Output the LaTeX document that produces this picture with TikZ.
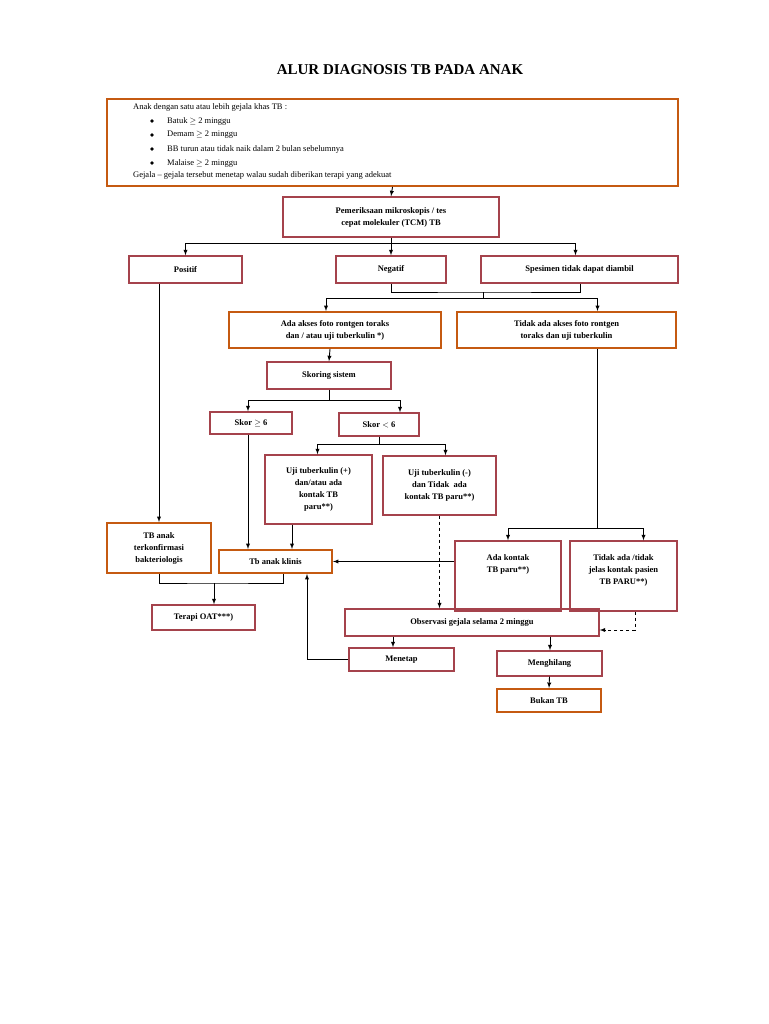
\documentclass[tikz,border=0pt]{standalone}
\usepackage{fontspec}
\setmainfont{Liberation Serif}
\usepackage{amssymb}
\usetikzlibrary{arrows}
\definecolor{boxred}{HTML}{A5434C}
\definecolor{boxorange}{HTML}{C55A11}
\begin{document}
\begin{tikzpicture}[>=latex, x=1pt, y=-1pt,
  box/.style={rectangle, draw=boxred, line width=1.4pt, inner sep=2pt,
    align=center, font=\bfseries\fontsize{8.5}{12}\selectfont},
  obox/.style={box, draw=boxorange, line width=1.9pt},
  txt/.style={anchor=west, inner sep=0pt, font=\fontsize{8.5}{10}\selectfont},
  con/.style={line width=0.9pt},
  dcon/.style={con, dashed}]
  %
  \useasboundingbox (0,0) rectangle (768,1024);
  \node[font=\bfseries\fontsize{15}{18}\selectfont] (title) at (400,70) {ALUR DIAGNOSIS TB PADA ANAK};

  % gejala
  \node[obox, minimum width=571pt, minimum height=87pt] (gejala) at (392.5,142.5) {};
  \node[txt] (g0) at (133,107) {Anak dengan satu atau lebih gejala khas TB :};
  \node[txt] (g1) at (167,121) {Batuk $\geq$ 2 minggu};
  \node[txt] (g2) at (167,135) {Demam $\geq$ 2 minggu};
  \node[txt] (g3) at (167,149) {BB turun atau tidak naik dalam 2 bulan sebelumnya};
  \node[txt] (g4) at (167,163) {Malaise $\geq$ 2 minggu};
  \node[txt] (g5) at (133,175) {Gejala -- gejala tersebut menetap walau sudah diberikan terapi yang adekuat};
  \foreach \y in {121,135,149,163}
    \fill (152,\y) circle (1.8pt);

  % boxes
  \node[box, minimum width=216pt, minimum height=40pt] (periksa) at (391,217) {Pemeriksaan mikroskopis / tes\\cepat molekuler (TCM) TB};
  \node[box, minimum width=113pt, minimum height=27pt] (positif) at (185.5,269.5) {Positif};
  \node[box, minimum width=110pt, minimum height=27pt] (negatif) at (391,269.5) {Negatif};
  \node[box, minimum width=197pt, minimum height=27pt] (spesimen) at (579.5,269.5) {Spesimen tidak dapat diambil};
  \node[obox, minimum width=212pt, minimum height=36pt] (akses) at (335,330) {Ada akses foto rontgen toraks\\dan / atau uji tuberkulin *)};
  \node[obox, minimum width=219pt, minimum height=36pt] (noakses) at (566.5,330) {Tidak ada akses foto rontgen\\toraks dan uji tuberkulin};
  \node[box, minimum width=124pt, minimum height=27pt] (skoring) at (329,375.5) {Skoring sistem};
  \node[box, minimum width=82pt, minimum height=22pt] (skor6) at (251,423) {Skor $\geq$ 6};
  \node[box, minimum width=80pt, minimum height=23pt] (skorlt) at (379,424.5) {Skor $<$ 6};
  \node[box, minimum width=107pt, minimum height=69pt] (ujipos) at (318.5,489.5) {Uji tuberkulin (+)\\dan/atau ada\\kontak TB\\paru**)};
  \node[box, minimum width=113pt, minimum height=59pt] (ujineg) at (439.5,485.5) {Uji tuberkulin (-)\\dan Tidak \ ada\\kontak TB paru**)};
  \node[obox, minimum width=104pt, minimum height=50pt] (konfirm) at (159,548) {TB anak\\terkonfirmasi\\bakteriologis};
  \node[obox, minimum width=113pt, minimum height=23pt] (klinis) at (275.5,561.5) {Tb anak klinis};
  \node[box, minimum width=106pt, minimum height=70pt] (kontak) at (508,576) {Ada kontak\\TB paru**)\\ \\ };
  \node[box, minimum width=107pt, minimum height=70pt] (nokontak) at (623.5,576) {Tidak ada /tidak\\jelas kontak pasien\\TB PARU**)\\ };
  \node[box, minimum width=103pt, minimum height=25pt] (terapi) at (203.5,617.5) {Terapi OAT***)};
  \node[box, minimum width=254pt, minimum height=27pt] (observasi) at (472,622.5) {Observasi gejala selama 2 minggu};
  \node[box, minimum width=105pt, minimum height=23pt] (menetap) at (401.5,659.5) {Menetap};
  \node[box, minimum width=105pt, minimum height=25pt] (hilang) at (549.5,663.5) {Menghilang};
  \node[obox, minimum width=104pt, minimum height=23pt] (bukan) at (549,700.5) {Bukan TB};

  % connectors
  \draw[con,->] (gejala.south) -- (periksa.north);
  \coordinate (s1) at (391,243);
  \draw[con] (periksa.south) -- (s1);
  \draw[con,->] (s1) -| (positif.north);
  \draw[con,->] (s1) -| ([xshift=-4pt]spesimen.north);
  \draw[con,->] (s1) -- (negatif.north);
  \coordinate (s2) at (483,292);
  \draw[con] (negatif.south) |- (s2) -| ([xshift=1pt]spesimen.south);
  \coordinate (s3) at (483,298);
  \draw[con] (s2) -- (s3);
  \draw[con,->] (s3) -| ([xshift=-9pt]akses.north);
  \draw[con,->] (s3) -| ([xshift=31pt]noakses.north);
  \draw[con,->] ([xshift=-5pt]akses.south) -- (skoring.north);
  \coordinate (s4) at (329,400);
  \draw[con] (skoring.south) -- (s4);
  \draw[con,->] (s4) -| ([xshift=-3pt]skor6.north);
  \draw[con,->] (s4) -| ([xshift=21pt]skorlt.north);
  \coordinate (s5) at (379,444);
  \draw[con] (skorlt.south) -- (s5);
  \draw[con,->] (s5) -| ([xshift=-1pt]ujipos.north);
  \draw[con,->] (s5) -| ([xshift=6pt]ujineg.north);
  \draw[con,->] (positif.south -| konfirm.north) -- (konfirm.north);
  \draw[con,->] (skor6.south -| 248,0) -- (klinis.north -| 248,0);
  \draw[con,->] (ujipos.south -| 292,0) -- (klinis.north -| 292,0);
  \draw[dcon,->] (ujineg.south) -- (observasi.north -| ujineg.south);
  \coordinate (s6) at (597,528);
  \draw[con] (noakses.south -| s6) -- (s6);
  \draw[con,->] (s6) -| (kontak.north);
  \draw[con,->] (s6) -| ([xshift=20pt]nokontak.north);
  \draw[con,->] (kontak.west |- klinis.east) -- (klinis.east);
  \coordinate (s7) at (214,583);
  \draw[con] (konfirm.south) |- (s7) -| (klinis.south -| 283,0);
  \draw[con,->] (s7) -- (terapi.north -| s7);
  \coordinate (s8) at (635,630);
  \draw[dcon] (nokontak.south -| s8) -- (s8);
  \draw[dcon,->] (s8) -- (observasi.east |- s8);
  \draw[con,->] (observasi.south -| 393,0) -- (menetap.north -| 393,0);
  \draw[con,->] (observasi.south -| 550,0) -- (hilang.north -| 550,0);
  \draw[con,->] (hilang.south) -- (bukan.north);
  \draw[con,->] (menetap.west) -| (klinis.south -| 307,0);
\end{tikzpicture}
\end{document}
